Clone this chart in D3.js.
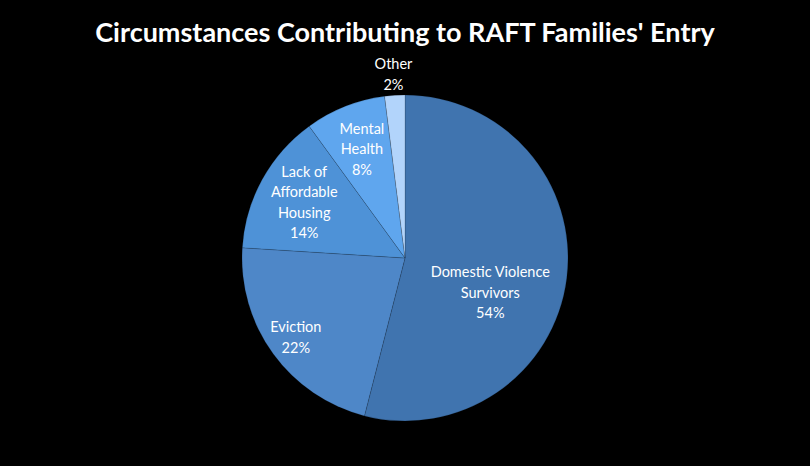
<!DOCTYPE html>
<html>
<head>
<meta charset="utf-8">
<script src="https://cdn.jsdelivr.net/npm/d3@7"></script>
<style>
  body { margin: 0; background: #000; }
  svg { display: block; }
</style>
</head>
<body>
<svg id="chart" width="810" height="466"></svg>
<script>
// chart data
var categories = ["Domestic Violence|Survivors", "Eviction", "Lack of|Affordable|Housing", "Mental|Health", "Other"];
var shares = [54, 22, 14, 8, 2];
var colors = ["#3d6ea6", "#4a80be", "#4a8acc", "#5a9de2", "#a9c9ee"];

var svg = d3.select("#chart");
var cx = 405, cy = 258, r = 163;

svg.append("text")
  .attr("x", cx).attr("y", 42)
  .attr("text-anchor", "middle")
  .attr("fill", "#fff")
  .attr("font-family", "Lato, 'Open Sans', sans-serif")
  .attr("font-weight", "bold")
  .attr("font-size", 27)
  .text("Circumstances Contributing to RAFT Families' Entry");

var defs = svg.append("defs");
colors.forEach(function (c, i) {
  var g = defs.append("radialGradient").attr("id", "g" + i)
    .attr("gradientUnits", "userSpaceOnUse")
    .attr("cx", cx).attr("cy", cy).attr("r", r);
  g.append("stop").attr("offset", "0%").attr("stop-color", d3.color(c).darker(0.25));
  g.append("stop").attr("offset", "100%").attr("stop-color", d3.color(c).brighter(0.15));
});

var pie = d3.pie().sort(null).value(function (d) { return d; });
var arcs = pie(shares);
var arc = d3.arc().innerRadius(0).outerRadius(r);

var g = svg.append("g").attr("transform", "translate(" + cx + "," + cy + ")");
g.selectAll("path").data(arcs).enter().append("path")
  .attr("d", arc)
  .attr("fill", function (d, i) { return "url(#g" + i + ")"; })
  .attr("stroke", "#000").attr("stroke-width", 0.5).attr("stroke-opacity", 0.3);

// label distance from centre per slice, plus small vertical nudges
var labelR = [86, 135, 115, 117, 184];
var nudge = [24, 0, 0, 0, 0];
var lh = 20.5;
arcs.forEach(function (d, i) {
  var a = (d.startAngle + d.endAngle) / 2;
  var x = Math.sin(a) * labelR[i], y = -Math.cos(a) * labelR[i] + nudge[i];
  var lines = categories[i].split("|").concat([shares[i] + "%"]);
  var t = g.append("text")
    .attr("text-anchor", "middle")
    .attr("fill", "#fff")
    .attr("font-family", "Lato, 'Open Sans', sans-serif")
    .attr("font-size", 14.5);
  lines.forEach(function (l, j) {
    t.append("tspan").attr("x", x)
      .attr("y", y + (j - (lines.length - 1) / 2) * lh + 5)
      .text(l);
  });
});
</script>
</body>
</html>
